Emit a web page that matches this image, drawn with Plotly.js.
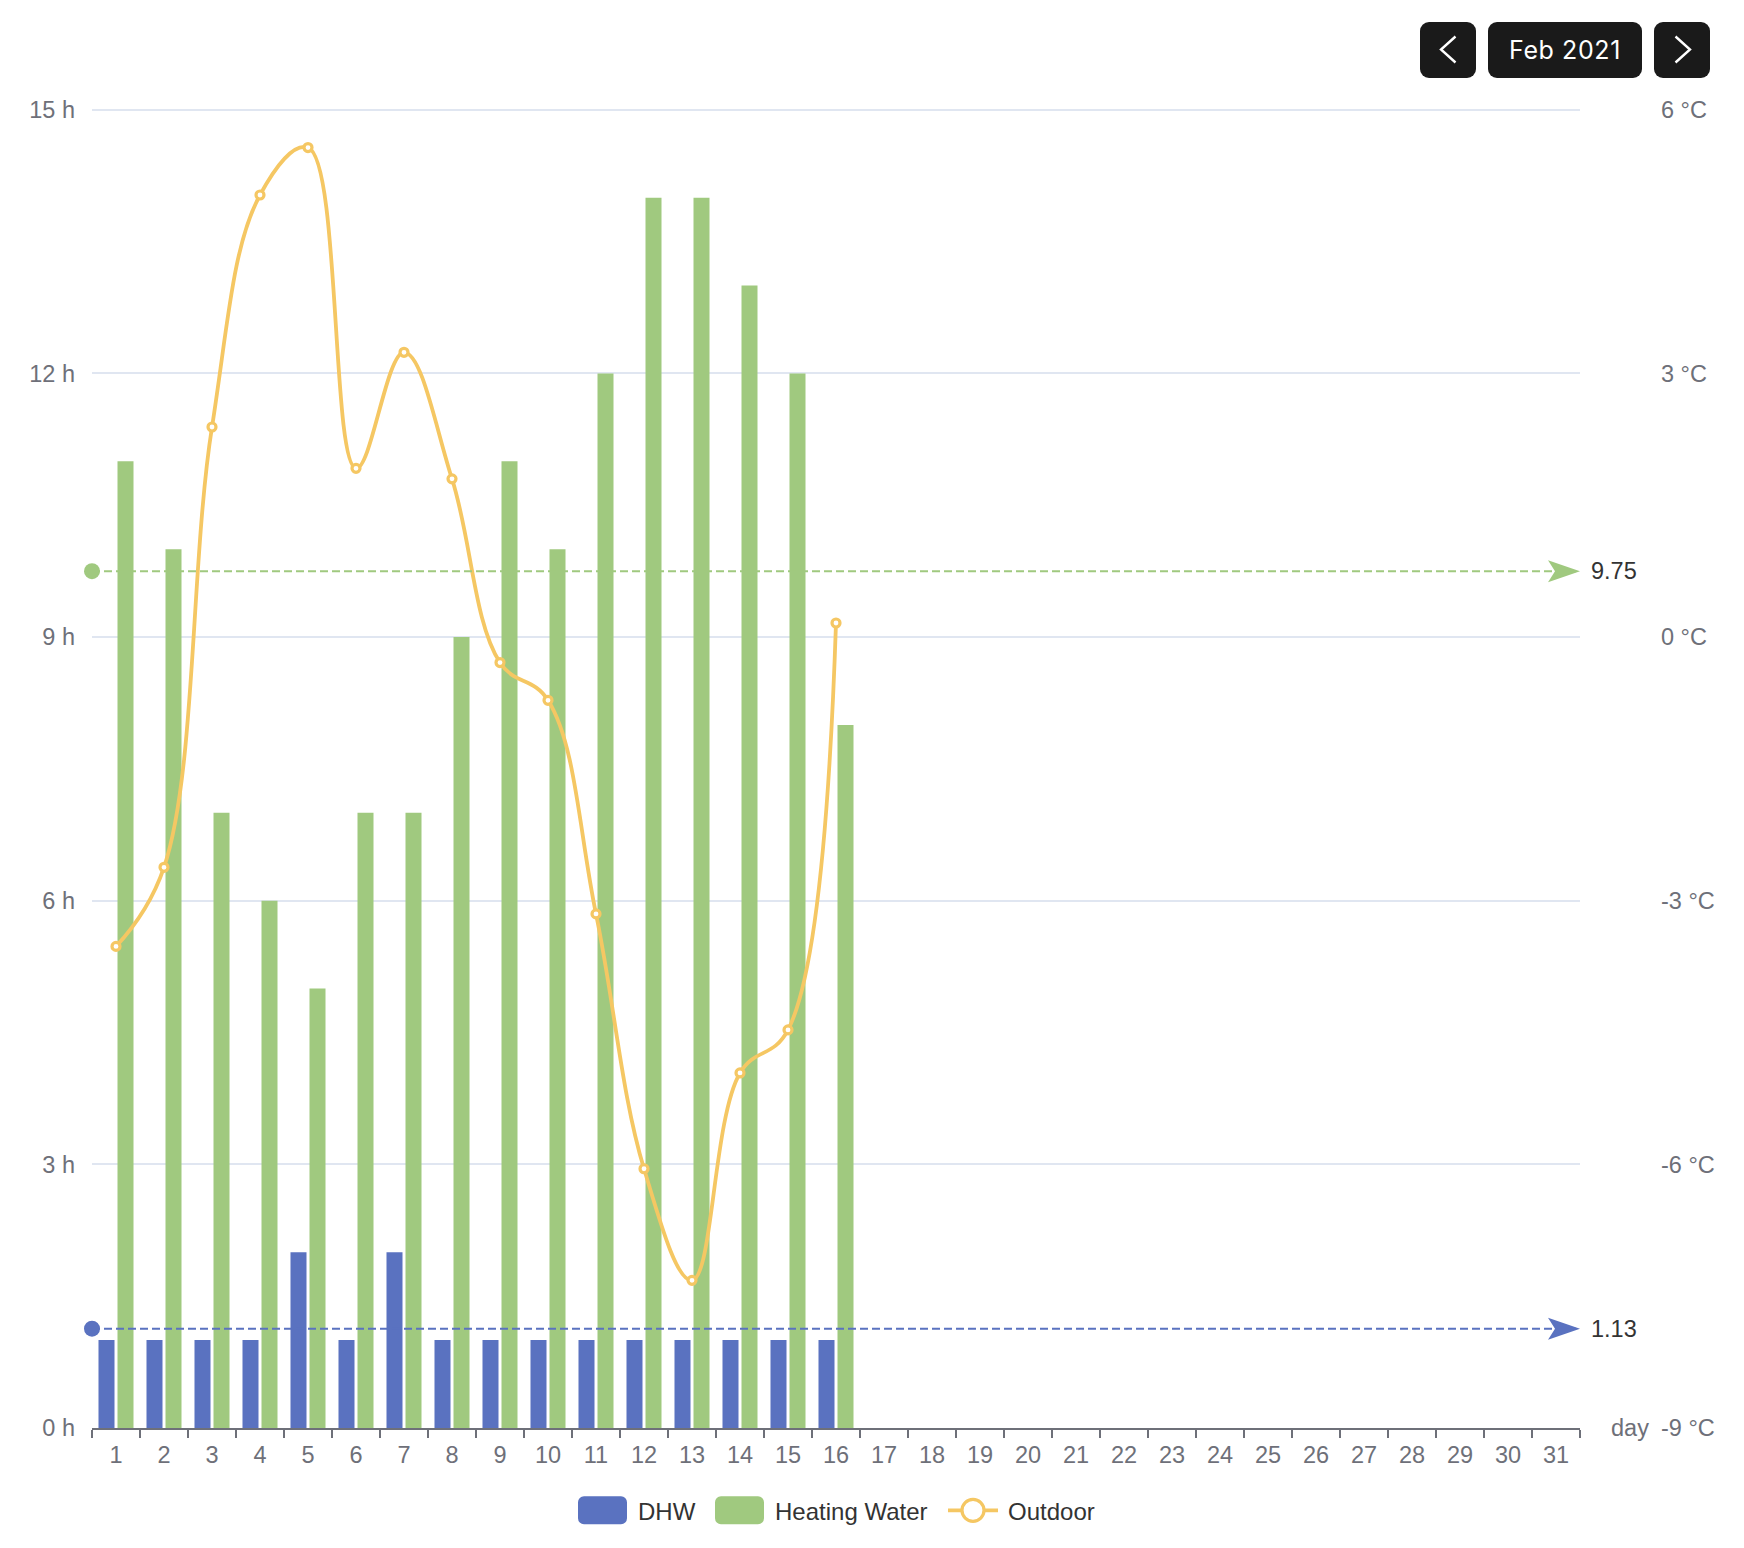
<!DOCTYPE html>
<html><head><meta charset="utf-8">
<script src="https://cdn.plot.ly/plotly-3.0.1.min.js"></script>
<style>
html,body{margin:0;padding:0;background:#fff;width:1744px;height:1548px;overflow:hidden}
#chart{position:absolute;left:0;top:0;width:1744px;height:1548px}
.btn{position:absolute;top:22px;height:56px;background:#1a1a1a;border-radius:9px;color:#fff;display:flex;align-items:center;justify-content:center;font:25px Inter,"Liberation Sans",sans-serif;letter-spacing:.6px}
</style></head><body>
<div id="chart"></div>
<div class="btn" style="left:1420px;width:56px"><svg width="56" height="56"><path d="M35.5 14.5 L21 27.5 L35.5 40.5" fill="none" stroke="#fff" stroke-width="2.4"/></svg></div>
<div class="btn" style="left:1488px;width:154px">Feb 2021</div>
<div class="btn" style="left:1654px;width:56px"><svg width="56" height="56"><path d="M21.5 14.5 L36 27.5 L21.5 40.5" fill="none" stroke="#fff" stroke-width="2.4"/></svg></div>
<script>
const allDays = ["1","2","3","4","5","6","7","8","9","10","11","12","13","14","15","16","17","18","19","20","21","22","23","24","25","26","27","28","29","30","31"];
const days = allDays.slice(0,16);
const dhw = [1,1,1,1,2,1,2,1,1,1,1,1,1,1,1,1];
const heating = [11,10,7,6,5,7,7,9,11,10,12,14,14,13,12,8];
const outdoor = [-3.52,-2.62,2.39,5.03,5.57,1.92,3.24,1.8,-0.29,-0.72,-3.15,-6.05,-7.32,-4.96,-4.47,0.16];
const dhwAvg = 1.13, heatAvg = 9.75;
const hourTicks = [0,3,6,9,12,15];
const hourLabels = ["0 h","3 h","6 h","9 h","12 h","15 h"];
const tempTicks = [-9,-6,-3,0,3,6];
const tempLabels = ["-9 °C","-6 °C","-3 °C","0 °C","3 °C","6 °C"];
const BLUE="#5a72c0", GREEN="#a0c97f", YELLOW="#f5c763", GREY="#6e7079", TXT="#333333";
const FONT='"Liberation Sans",Arial,sans-serif';
const FS=23.5;

function avgTrace(v,c,n){return {type:'scatter',mode:'lines+markers',name:n,xaxis:'x2',yaxis:'y',x:[0.5,31.5],y:[v,v],
  line:{color:c,width:2,dash:'8px,4px'},marker:{color:c,opacity:1,size:[16,0],line:{width:0}},showlegend:false,cliponaxis:false,hoverinfo:'skip'};}
function arrow(v,c){return {type:'path',xref:'x2',yref:'y',xsizemode:'pixel',ysizemode:'pixel',xanchor:31.5,yanchor:v,
  path:'M0,0 L-32,11 L-25,0 L-32,-11 Z',fillcolor:c,line:{width:0},layer:'above'};}
function endLabel(v){return {xref:'x2',yref:'y',x:31.5,y:v,text:v.toFixed(2),showarrow:false,xanchor:'left',yanchor:'middle',xshift:9,font:{family:FONT,size:FS,color:TXT}};}

const data=[
 {type:'bar',name:'DHW',x:days,y:dhw,marker:{color:BLUE},xaxis:'x',yaxis:'y'},
 {type:'bar',name:'Heating Water',x:days,y:heating,marker:{color:GREEN},xaxis:'x',yaxis:'y'},
 avgTrace(heatAvg,GREEN,'Heating Water average'),
 avgTrace(dhwAvg,BLUE,'DHW average'),
 {type:'scatter',mode:'lines+markers',name:'Outdoor',x:days,y:outdoor,xaxis:'x',yaxis:'y2',
  line:{color:YELLOW,width:3.8,shape:'spline',smoothing:1.1},
  marker:{symbol:'circle',size:8,color:'#fff',line:{color:YELLOW,width:3.2}},cliponaxis:false}
];
const layout={
 width:1744,height:1548,margin:{l:92,r:164,t:108.25,b:119.75},paper_bgcolor:'#fff',plot_bgcolor:'#fff',
 font:{family:FONT,size:FS,color:GREY},
 barmode:'group',bargap:0.208,bargroupgap:0.158,
 xaxis:{type:'category',categoryorder:'array',categoryarray:allDays,tickvals:allDays,ticktext:allDays,range:[-0.5,30.5],tickson:'boundaries',
   ticks:'outside',ticklen:8,tickwidth:2,tickcolor:GREY,showline:true,linecolor:GREY,linewidth:2,showgrid:false,zeroline:false,
   tickfont:{family:FONT,size:FS,color:GREY},tickangle:0,ticklabelstandoff:5},
 xaxis2:{type:'linear',overlaying:'x',range:[0.5,31.5],visible:false},
 yaxis:{range:[0,15.02],tickmode:'array',tickvals:hourTicks,ticktext:hourLabels,showgrid:true,gridcolor:'#e0e6f1',gridwidth:2,zeroline:false,
   showline:false,ticks:'',ticklabelstandoff:16,tickfont:{family:FONT,size:FS,color:GREY}},
 yaxis2:{range:[-9,6.02],overlaying:'y',side:'right',tickmode:'array',tickvals:tempTicks,ticktext:tempLabels,showgrid:false,zeroline:false,
   showline:false,ticks:'',ticklabelstandoff:80,tickfont:{family:FONT,size:FS,color:GREY}},
 shapes:[arrow(heatAvg,GREEN),arrow(dhwAvg,BLUE)],
 annotations:[endLabel(heatAvg),endLabel(dhwAvg),
  {xref:'x2',yref:'y',x:31.5,y:0,text:'day',showarrow:false,xanchor:'left',yanchor:'middle',xshift:29,font:{family:FONT,size:FS,color:GREY}}],
 showlegend:true,
 legend:{orientation:'h',x:(578-92)/1488,xanchor:'left',y:(1428.25-1511)/1320,yanchor:'middle',itemwidth:50,itemsizing:'trace',traceorder:'normal',
   entrywidthmode:'pixels',entrywidth:180,
   font:{family:FONT,size:24,color:TXT},itemclick:false,itemdoubleclick:false}
};
const legendOffsets=[0,137,370];
Plotly.newPlot('chart',data,layout,{displayModeBar:false,responsive:false}).then(gd=>{
  const items=gd.querySelectorAll('.legend .traces');
  items.forEach((it,i)=>{
    const tr=it.getAttribute('transform')||'';
    const m=tr.match(/translate\(\s*[-\d.]+\s*[, ]\s*([-\d.]+)/);
    it.setAttribute('transform','translate('+legendOffsets[i]+','+(m?m[1]:0)+')');
    const paths=it.querySelectorAll('.legendpoints path');
    if(i<2){
      paths.forEach(p=>{
        p.setAttribute('d','M-18.5,-14H18.5A6,6 0 0 1 24.5,-8V8A6,6 0 0 1 18.5,14H-18.5A6,6 0 0 1 -24.5,8V-8A6,6 0 0 1 -18.5,-14Z');
        p.setAttribute('transform','translate(24.5,0)');
      });
    } else {
      const ln=it.querySelector('.legendlines path');
      if(ln){ln.setAttribute('d','M0,0h50');}
      const pt=it.querySelector('.legendsymbols .scatterpts');
      if(pt){pt.setAttribute('d','M11,0A11,11 0 1 1 -11,0A11,11 0 1 1 11,0Z');pt.setAttribute('transform','translate(25,0)');}
    }
  });
});
</script>
</body></html>
